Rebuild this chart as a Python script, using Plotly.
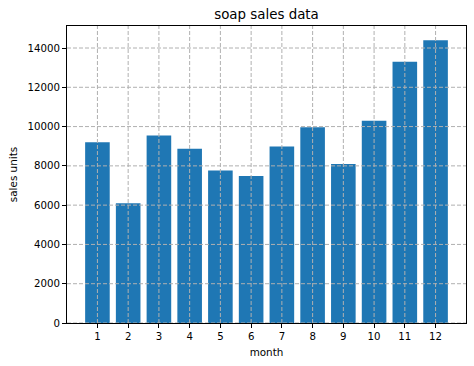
import plotly.graph_objects as go

months = [1, 2, 3, 4, 5, 6, 7, 8, 9, 10, 11, 12]
soap_sales = [9200, 6100, 9550, 8870, 7760, 7490, 8980, 9960, 8100, 10300, 13300, 14400]
y_ticks = [0, 2000, 4000, 6000, 8000, 10000, 12000, 14000]
y_ticktext = ["0", "2000", "4000", "6000", "8000", "10000", "12000", "14000"]

fig = go.Figure()
fig.add_trace(go.Bar(x=months, y=soap_sales, width=0.8, marker_color="#1f77b4",
                     marker_line_width=0))

grid_style = dict(color="#b0b0b0", width=1, dash="4px,2px")
for m in months:
    fig.add_shape(type="line", xref="x", yref="paper", x0=m, x1=m, y0=0, y1=1,
                  line=grid_style, layer="above")
for t in y_ticks:
    fig.add_shape(type="line", xref="paper", yref="y", x0=0, x1=1, y0=t, y1=t,
                  line=grid_style, layer="above")

font = "DejaVu Sans"
fig.update_layout(
    width=474, height=366,
    margin=dict(l=67, r=8, t=26, b=43, autoexpand=False),
    paper_bgcolor="white", plot_bgcolor="white",
    showlegend=False,
    title=dict(text="soap sales data", x=0.5, xanchor="center", xref="paper",
               y=1 - 14 / 366, yanchor="middle",
               font=dict(family=font, size=13.4, color="black")),
    font=dict(family=font, size=10.2, color="black"),
)
fig.update_xaxes(range=[0.01, 12.99], tickvals=months, ticks="outside", ticklen=4, tickcolor="black",
                 showgrid=False, zeroline=False, showline=True, linecolor="black", linewidth=1, mirror=True,
                 automargin=False,
                 title=dict(text="month", standoff=7, font=dict(size=10.4)), tickfont=dict(size=10.2))
fig.update_yaxes(range=[0, 15120], tickvals=y_ticks, ticktext=y_ticktext, ticks="outside", ticklen=4,
                 tickcolor="black",
                 showgrid=False, zeroline=False, showline=True, linecolor="black", linewidth=1, mirror=True,
                 automargin=False,
                 title=dict(text="sales units", standoff=7, font=dict(size=10.4)), tickfont=dict(size=10.2))

fig.write_html("out.html", config={"displayModeBar": False},
               post_script="document.body.style.margin='0';document.body.style.overflow='hidden';")
